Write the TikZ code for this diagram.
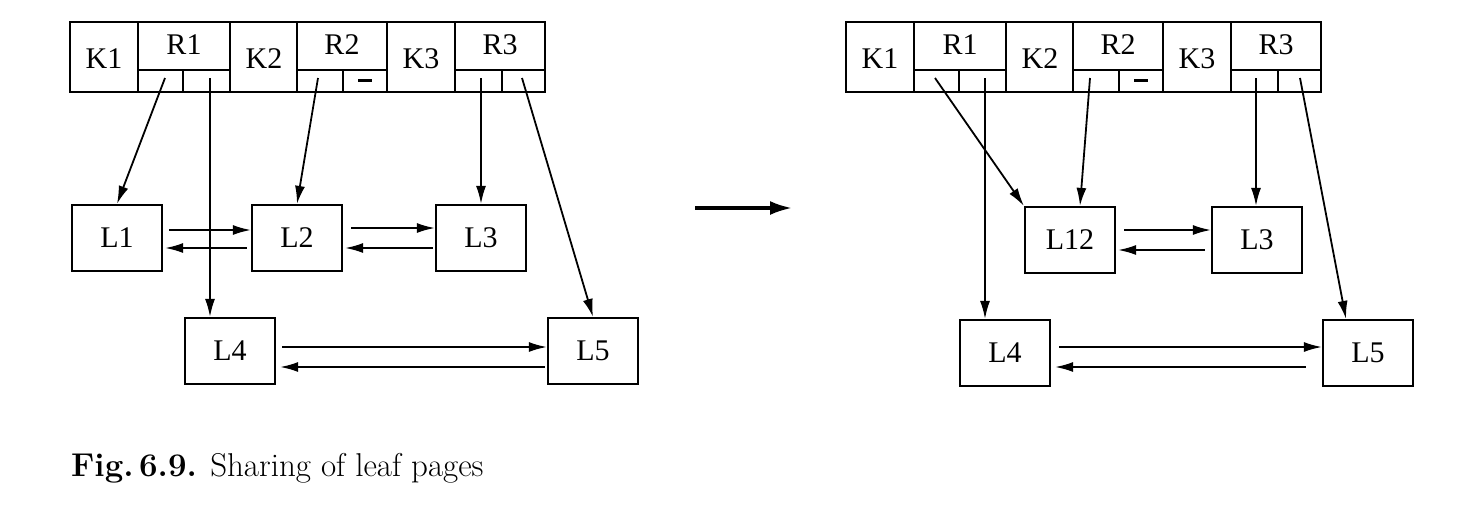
\documentclass[tikz,border=0pt]{standalone}
\usetikzlibrary{arrows.meta}
\usepackage{fontspec}
\newfontfamily\tms{Liberation Serif}
\begin{document}
\begin{tikzpicture}[x=1pt,y=-1pt,line width=2.2pt,
  leaf/.style={draw,minimum width=90pt,minimum height=66pt,font=\tms\fontsize{30}{30}\selectfont,inner sep=0pt},
  lbl/.style={font=\tms\fontsize{30}{30}\selectfont},
  arr/.style={-{Latex[length=18pt,width=10pt]},line width=1.8pt}]
\useasboundingbox (0,0) rectangle (1473,504);
\tikzset{header/.pic={
  \draw (0,0) rectangle (475,70);
  \foreach \x in {68,160,227,317,385} \draw (\x,0) -- (\x,70);
  \draw (68,48) -- (160,48) (227,48) -- (317,48) (385,48) -- (475,48);
  \draw (113,48) -- (113,70) (273,48) -- (273,70) (432,48) -- (432,70);
  \draw[line width=3pt] (288,58) -- (302,58);
  \node[lbl] at (34,37) {K1};
  \node[lbl] at (114,23) {R1};
  \node[lbl] at (194,37) {K2};
  \node[lbl] at (272,23) {R2};
  \node[lbl] at (351,37) {K3};
  \node[lbl] at (430,23) {R3};
}}
% left
\pic at (70,22) {header};
\coordinate (a1) at (165,78); \coordinate (a2) at (210,78);
\coordinate (a3) at (318,78); \coordinate (a4) at (481,78); \coordinate (a5) at (522,78);
\node[leaf] (L1) at (117,238) {L1};
\node[leaf] (L2) at (297,238) {L2};
\node[leaf] (L3) at (481,238) {L3};
\node[leaf] (L4) at (230,351) {L4};
\node[leaf] (L5) at (593,351) {L5};
\draw[arr] (a1) -- (L1.north);
\draw[arr] (a2) -- (L4.north -| a2);
\draw[arr] (a3) -- (L2.north);
\draw[arr] (a4) -- (L3.north -| a4);
\draw[arr] (a5) -- (L5.north);
\draw[arr] ([shift={(6,-8)}]L1.east) -- ([shift={(0,-8)}]L2.west);
\draw[arr] ([shift={(-4,10)}]L2.west) -- ([shift={(2,10)}]L1.east);
\draw[arr] ([shift={(8,-10)}]L2.east) -- ([shift={(0,-10)}]L3.west);
\draw[arr] ([shift={(-2,10)}]L3.west) -- ([shift={(2,10)}]L2.east);
\draw[arr] ([shift={(6,-4)}]L4.east) -- ([shift={(0,-4)}]L5.west);
\draw[arr] ([shift={(-2,16)}]L5.west) -- ([shift={(4,16)}]L4.east);
% middle arrow
\coordinate (m1) at (695,208); \coordinate (m2) at (792,208);
\draw[arr,line width=3.2pt,-{Latex[length=22pt,width=14pt]}] (m1) -- (m2);
% right
\pic at (846,22) {header};
\coordinate (b1) at (935,78); \coordinate (b2) at (985,78);
\coordinate (b3) at (1090,78); \coordinate (b4) at (1256,78); \coordinate (b5) at (1300,78);
\node[leaf] (M12) at (1070,240) {L12};
\node[leaf] (M3) at (1257,240) {L3};
\node[leaf] (M4) at (1005,353) {L4};
\node[leaf] (M5) at (1368,353) {L5};
\draw[arr] (b1) -- (M12.north west);
\draw[arr] (b2) -- (M4.north -| b2);
\draw[arr] (b3) -- ([xshift=10pt]M12.north);
\draw[arr] (b4) -- (M3.north -| b4);
\draw[arr] (b5) -- ([xshift=-22pt]M5.north);
\draw[arr] ([shift={(8,-10)}]M12.east) -- ([shift={(0,-10)}]M3.west);
\draw[arr] ([shift={(-6,10)}]M3.west) -- ([shift={(2,10)}]M12.east);
\draw[arr] ([shift={(8,-6)}]M4.east) -- ([shift={(0,-6)}]M5.west);
\draw[arr] ([shift={(-16,14)}]M5.west) -- ([shift={(4,14)}]M4.east);
\node[anchor=base west,font=\fontsize{33}{33}\selectfont,inner sep=0pt] (cap) at (70,476) {\textbf{Fig.\,6.9.} Sharing of leaf pages};
\end{tikzpicture}
\end{document}
